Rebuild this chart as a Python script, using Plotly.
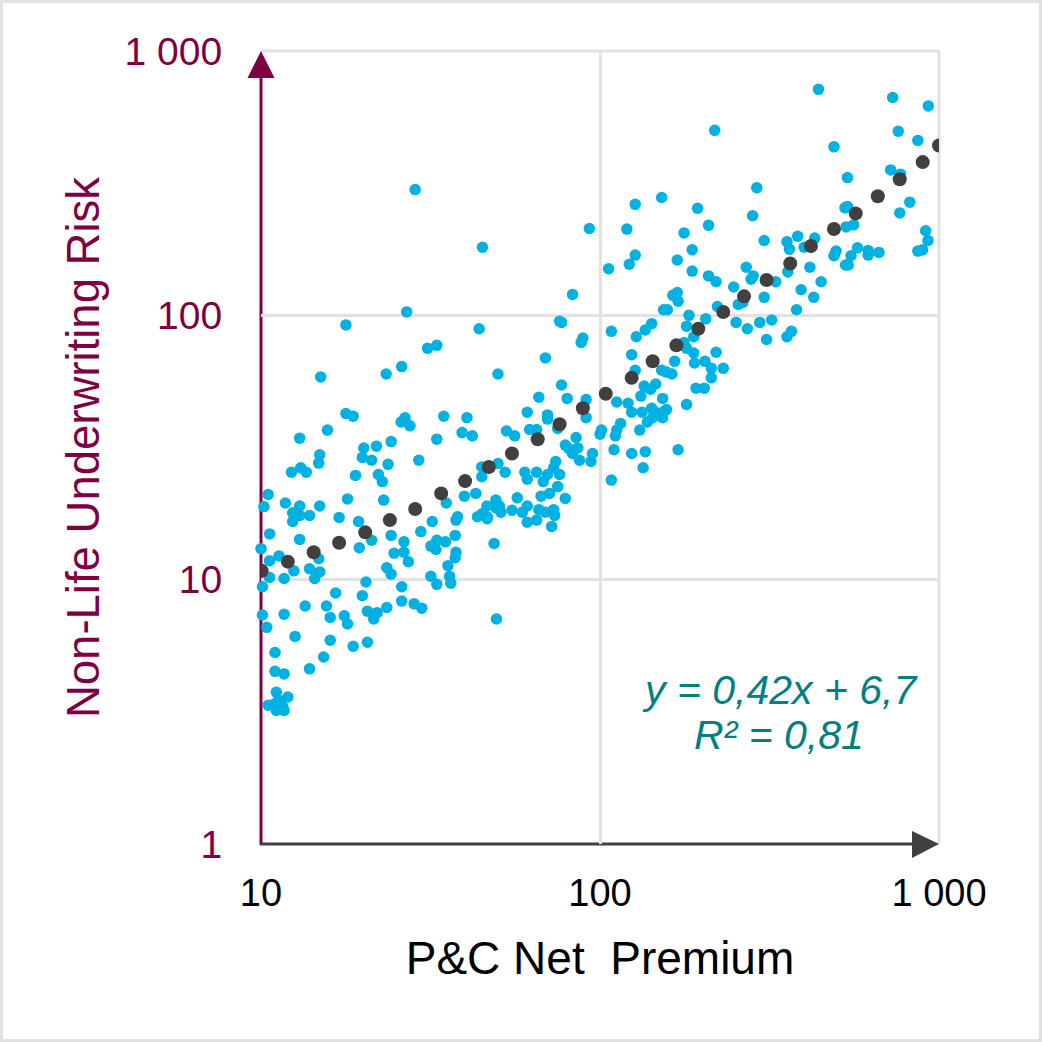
import plotly.graph_objects as go

premium = [
17.8,26.9,44,31,33,26,23.4,15,50,17.8,18.7,34.6,40.5,26.6,25.9,27.5,39.2,42,15.7,13,
33,24.2,21.9,20.1,19.9,21.2,29.2,23.7,14.9,14.8,13.1,12.3,13.6,19,22.2,22.8,44.8,44.8,39.8,43,
35.2,23,18,14.9,13,11.8,10.5,10.2,46.4,49.3,
12.4,13,13.9,12.4,17,19.4,32,38,37.6,43.5,46.5,45,49.3,10.6,13,29.6,24.2,21.2,19.5,26.4,
26.4,24.7,27.2,37.4,35,33,31.7,32.8,37.6,37.4,35.6,48.7,10,10.6,11.3,14.8,13.9,12.5,14.9,10.6,
11.7,14.4,10.1,20.4,23.5,24.2,31.7,33,36,36.3,26,16.6,19.9,26,28.3,29.8,13.5,15.6,23.5,22,
20.6,21.5,17.6,18,16,11.7,10.1,10.4,12.6,16,20.6,18.7,11,15.3,13.9,11,11.7,11.1,12,10.5,
11,11.3,11.6,11.1,11.7,49.5,
77,76,89,88,108,142,136,128,154,158,170,183,205,180,222,189,177,180,189,190,
204,213,213,220,231,69,124,166,127,152,163,157,192,203,180,146,135,141,132,153,
77,66,80,91,61,70,70,91,112,121,124,133,142,146,153,157,153,138,143,115,
112,111,101,100,131,62,65,53,56,75,85,79,86,81,83,95,87,94,110,124,
136,170,134,108,74,73,76,50,52.5,65,60,61,70,68,75,71,67,57,79,50.5,
51,55,59,61,66,69,73,73.5,61,65,72,46.5,
441,730,930,218,758,866,490,537,720,770,290,152,194,820,766,282,528,537,209,177,
532,560,913,928,866,895,305,356,362,383,430,400,187,497,490,550,575,618,618,665,
540,530,169,187,209,220,270,283,279,330,358,416,449,392,427,248,305,256,264,380,
169,164,252,272,296,321,310,356,367,
127,93,120,127,122,83,45,28.5,106,
]
risk = [
92,103,89,75,77,64,60,58.5,60,42.5,41.5,41.5,41,41,39.5,38.2,36,35,36.8,34.3,
34,33.3,32,31.5,29,28.3,28.3,27.3,29.7,27.6,26.5,25.5,25.5,24.8,25,23.5,26.7,24.5,20.7,21.2,
19.5,20,20.2,19,19,19.5,21,18.9,19,20,
17.9,17.5,17.5,16.6,17.2,16.6,16.6,17.3,16.8,17.3,17.3,17.8,18.7,14.9,14.2,15.2,14.7,14.1,13.2,13.9,
12.7,12.6,11.7,14.7,13.9,14.1,13.4,13,12.7,12.1,11.3,13.7,13.1,11.8,12.3,12,11,10.8,10.7,10.2,
10.1,10.1,9.4,9.8,11.1,10.5,10.3,9.6,10.3,9.7,9.4,8.9,8.7,8.3,8.1,7.8,7.95,7.95,7.85,7.5,
7.6,7.1,7.3,6.8,7.2,7.4,7.35,6.6,6.1,5.9,5.8,5.6,5.3,5.1,4.6,4.5,4.4,3.75,3.6,3.35,
3.4,3.5,3.3,3.2,3.2,7.1,
94,95,82,79,87,93,88,83,105,105,113,100,97,91,108,83,79,75,72,66,
67,63,58,72.5,63,69,71,67,62,62,60,61,53,53,46,55,54,52.5,49.5,48.5,
54.5,49,48.5,48,43,42,40.5,41,47,46.5,43,43,44.5,43,43,44,41,39.5,41,39,
36.8,35,36.8,35.5,36.8,37,37,36.5,35,37.3,34.5,32.3,31.5,31.3,30,30,28.3,28,31,30,
30.5,31,26.5,23.8,28,26.5,25,27.5,25.5,25.5,25.5,24,25,23.5,22.5,21.2,20.7,20.4,20.3,19,
18,18.3,18,19,18.4,18,18.4,17.5,16.5,16.8,15.9,17,
716,667,620,501,497,459,434,332,355,342,304,279,254,268,244,238,255,258,219,205,
216,220,209,192,175,177,192,190,178,199,196,181,177,175,168,168,180,176,169,173,
155,155,162,147,141,134,152,141,137,134,146,152,134,125,117,128,117,110,112,105,
122,119,94,89,94,96,81,83,87,
263,213,212,169,156,120,181,299,150,
]
trend_premium = [10.05,12,14.3,17,20.3,24,28.5,34,40,47,55,65.5,76,89,104,124,143,168,195,231,266,310,364,419,490,568,660,766,895,1000]
trend_risk = [10.8,11.7,12.7,13.8,15.1,16.8,18.5,21.2,23.6,26.7,30,34,38.7,44.5,50.5,58,67,77,89,103,118,136,157,183,212,243,282,327,380,439]
tick_values = [10, 100, 1000]
x_tick_labels = ["10", "100", "1 000"]
y_tick_values = [1, 10, 100, 1000]
y_tick_labels = ["1", "10", "100", "1 000"]
equation_line = "<i>y = 0,42x + 6,7</i>"
r2_line = "<i>R² = 0,81</i>"

MAROON = "#7F0042"
DARK = "#404040"
GRID = "#E2E2E2"
FONT = "Liberation Sans, Arial, sans-serif"
W, H = 1042, 1042
L, R, T, B = 261, 103, 51, 198
PW, PH = W - L - R, H - T - B

fig = go.Figure()
fig.add_trace(go.Scatter(x=premium, y=risk, mode="markers", cliponaxis=False,
                         marker=dict(color="#00B2E2", size=11.5), showlegend=False))
fig.add_trace(go.Scatter(x=trend_premium, y=trend_risk, mode="markers", cliponaxis=True,
                         marker=dict(color=DARK, size=14), showlegend=False))

def px(x): return (x - L) / PW
def py(y): return (H - B - y) / PH

shapes = [
    dict(type="rect", xref="paper", yref="paper", x0=px(1.5), x1=px(W - 1.5), y0=py(1.5), y1=py(H - 1.5),
         line=dict(color=GRID, width=3), layer="below"),
    dict(type="line", xref="paper", yref="paper", x0=1, x1=1, y0=0, y1=1,
         line=dict(color=GRID, width=3), layer="below"),
    dict(type="line", xref="paper", yref="paper", x0=0, x1=1, y0=1, y1=1,
         line=dict(color=GRID, width=3), layer="below"),
    dict(type="line", xref="paper", yref="paper", x0=px(261), x1=px(261), y0=py(845), y1=py(75),
         line=dict(color=MAROON, width=3), layer="below"),
    dict(type="line", xref="paper", yref="paper", x0=px(260), x1=px(915), y0=py(844), y1=py(844),
         line=dict(color=DARK, width=3), layer="below"),
    dict(type="path", xref="paper", yref="paper", layer="below", line=dict(width=0), fillcolor=MAROON,
         path=f"M {px(247.5)} {py(78)} L {px(274.5)} {py(78)} L {px(261)} {py(51)} Z"),
    dict(type="path", xref="paper", yref="paper", layer="below", line=dict(width=0), fillcolor=DARK,
         path=f"M {px(912)} {py(831)} L {px(912)} {py(858)} L {px(939)} {py(844)} Z"),
]

fig.update_layout(
    width=W, height=H, autosize=False,
    margin=dict(l=L, r=R, t=T, b=B, pad=0),
    paper_bgcolor="white", plot_bgcolor="white",
    shapes=shapes, showlegend=False,
    font=dict(family=FONT),
    xaxis=dict(type="log", range=[1, 3], tickvals=tick_values, ticktext=x_tick_labels,
               showgrid=True, gridcolor=GRID, gridwidth=3, zeroline=False, showline=False,
               ticks="outside", ticklen=15, tickcolor="rgba(0,0,0,0)",
               tickfont=dict(size=38, color="#000000", family=FONT),
               title=dict(text="P&C Net  Premium", font=dict(size=46, color="#000000", family=FONT), standoff=29)),
    yaxis=dict(type="log", range=[0, 3], tickvals=y_tick_values, ticktext=y_tick_labels,
               showgrid=True, gridcolor=GRID, gridwidth=3, zeroline=False, showline=False,
               ticks="outside", ticklen=30, tickcolor="rgba(0,0,0,0)",
               tickfont=dict(size=39, color=MAROON, family=FONT),
               title=dict(text="Non-Life Underwriting Risk", font=dict(size=45.5, color=MAROON, family=FONT), standoff=10)),
    annotations=[
        dict(xref="paper", yref="paper", x=px(780), y=py(690), xanchor="center", yanchor="middle", showarrow=False,
             text=equation_line, font=dict(size=41, color="#008080", family=FONT)),
        dict(xref="paper", yref="paper", x=px(779), y=py(735), xanchor="center", yanchor="middle", showarrow=False,
             text=r2_line, font=dict(size=41, color="#008080", family=FONT)),
    ],
)

fig.write_html("out.html", post_script="document.body.style.margin='0';", config={"displayModeBar": False})
